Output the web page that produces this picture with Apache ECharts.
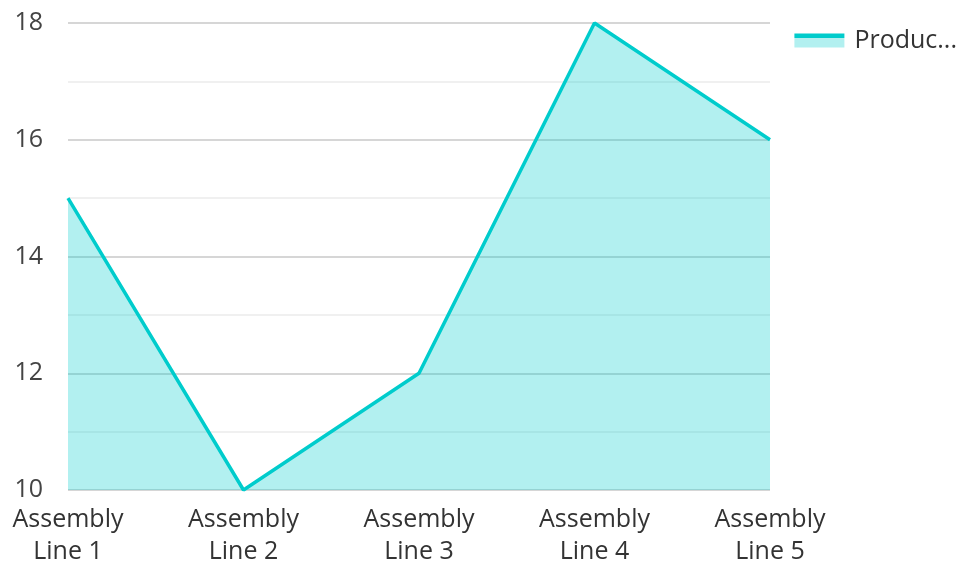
<!DOCTYPE html>
<html><head><meta charset="utf-8">
<script src="https://cdn.jsdelivr.net/npm/echarts@6/dist/echarts.min.js"></script>
<style>html,body{margin:0;padding:0;background:#fff;overflow:hidden}#c{width:957px;height:562px}</style>
</head><body><div id="c"></div>
<script>
const categories = ['Assembly\nLine 1','Assembly\nLine 2','Assembly\nLine 3','Assembly\nLine 4','Assembly\nLine 5'];
const seriesName = 'Production Output';
const values = [15, 10, 12, 18, 16];
const chart = echarts.init(document.getElementById('c'));
chart.setOption({
  animation: false,
  textStyle: {fontFamily: 'Open Sans'},
  grid: {left: 68, right: 187, top: 23, bottom: 72, containLabel: false, outerBoundsMode: 'none'},
  legend: {
    right: 0, top: 28, orient: 'vertical', padding: 0,
    itemWidth: 50, itemHeight: 14, itemGap: 10,
    icon: 'rect',
    itemStyle: {
      color: new echarts.graphic.LinearGradient(0, 0, 0, 1, [
        {offset: 0, color: '#00cccc'}, {offset: 0.3, color: '#00cccc'},
        {offset: 0.3, color: '#b2f0f0'}, {offset: 1, color: '#b2f0f0'}
      ]),
      borderWidth: 0
    },
    lineStyle: {width: 0, opacity: 0},
    textStyle: {fontSize: 25, color: '#333', fontFamily: 'Open Sans', width: 112, overflow: 'truncate', padding: [0, 0, 0, 5]},
    data: [seriesName]
  },
  xAxis: {
    type: 'category', boundaryGap: false, data: categories,
    axisLine: {show: false}, axisTick: {show: false},
    axisLabel: {fontSize: 25, color: '#333', lineHeight: 32, margin: 14, interval: 0, fontFamily: 'Open Sans'}
  },
  yAxis: {
    type: 'value', min: 10, max: 18, interval: 2,
    axisLine: {show: false}, axisTick: {show: false},
    axisLabel: {fontSize: 25, color: '#444', margin: 25, fontFamily: 'Open Sans'},
    splitLine: {lineStyle: {color: '#c8c8c8', width: 1.5}},
    minorTick: {show: false, splitNumber: 2},
    minorSplitLine: {show: true, lineStyle: {color: '#ebebeb', width: 1.5}}
  },
  series: [{
    name: seriesName, type: 'line', data: values, showSymbol: false,
    lineStyle: {color: '#00cccc', width: 3.5},
    itemStyle: {color: '#00cccc'},
    areaStyle: {color: '#00cccc', opacity: 0.3}
  }]
});
</script></body></html>
